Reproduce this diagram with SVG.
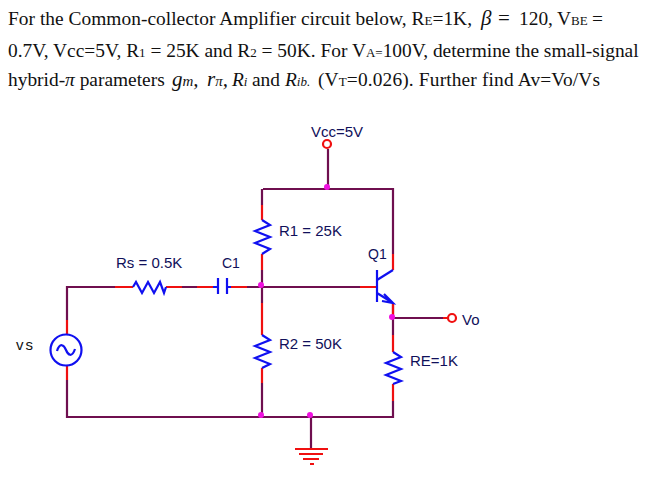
<svg xmlns="http://www.w3.org/2000/svg" width="663" height="477" viewBox="0 0 663 477">
<style>
.t{font-family:"Liberation Serif","Times New Roman",serif;font-size:19.4px;fill:#111}
.s{font-size:13px}
.m{font-size:21px}
.i{font-style:italic}
.l{font-family:"Liberation Sans",Arial,sans-serif;font-size:15px;fill:#10105a}
.n{font-size:14px}
.k{fill:#111}
.w{fill:none;stroke:#6f0f4f;stroke-width:2.2}
.r{fill:none;stroke:#f01010;stroke-width:2.2}
.b{fill:none;stroke:#1010f0;stroke-width:2.2}
.d{fill:#f010e0}
</style>
<rect width="663" height="477" fill="#fff"/>
<g id="problem-text">
<text class="t" x="8" y="25" textLength="464">For the Common-collector Amplifier circuit below, R<tspan class="s">E</tspan>=1K,</text>
<text class="t i m" x="481" y="25">β</text><text class="t m" x="498" y="25">=</text><text class="t" x="519" y="25">120,</text><text class="t" x="557" y="25">V<tspan class="s">BE</tspan></text><text class="t" x="592" y="25">=</text>
<text class="t" x="8" y="57">0.7V, Vcc=5V, R<tspan class="s">1</tspan> = 25K and R<tspan class="s">2</tspan> = 50K. For V<tspan class="s">A=</tspan>100V, determine the small-signal</text>
<text class="t" x="8" y="86">hybrid-<tspan class="i">π</tspan> parameters</text>
<text class="t i m" x="172" y="86">g<tspan font-size="15">m</tspan>,</text><text class="t i m" x="207" y="86">r<tspan font-size="15">π</tspan>,</text><text class="t i" x="232" y="86">R<tspan class="s">i</tspan></text><text class="t" x="252" y="86">and</text><text class="t i" x="285" y="86">R<tspan class="s">ib.</tspan></text>
<text class="t" x="318" y="86" textLength="282">(V<tspan class="s">T</tspan>=0.026). Further find Av=Vo/Vs</text>
</g>
<g id="connectors">
<path class="w" d="M115 287H67V320M67 380V417H393V401M182 287H197M247 287H360M262 189V205M262 270V303M262 383V417M328 149V189M263 189H393V254M393 303V335M393 318H443M311 417V449"/>
<path class="r" d="M115 287H133M166 287H182M197 287H213M231 287H247M67 320V335M67 365V380M262 205V220M262 254V270M262 303V335M262 368V383M360 287H377M393 254V270M393 303V317M393 335V352M393 384V401M443 318H448"/>
</g>
<g id="Vs"><circle class="b" cx="66" cy="350" r="15.5"/><path class="b" d="M57 351C60 342 64 345 66 350S72 358 75 349"/><text class="l k" x="16" y="350" textLength="17">vs</text></g>
<g id="Rs"><path class="b" d="M133 287L136 282L142 293L148 282L154 293L160 282L164 293L166 287"/><text class="l" x="116" y="268">Rs = 0.5K</text></g>
<g id="C1"><path class="b" d="M213 287H218M218 278V294M227 278V294M227 287H231"/><text class="l n" x="222" y="268">C1</text></g>
<g id="R1"><path class="b" d="M262 220L270 225L255 231L270 237L255 243L270 249L262 254"/><text class="l" x="279" y="236">R1 = 25K</text></g>
<g id="R2"><path class="b" d="M262 335L270 340L255 346L270 352L255 358L270 364L262 368"/><text class="l" x="279" y="349">R2 = 50K</text></g>
<g id="RE"><path class="b" d="M393 352L401 357L386 363L401 369L386 375L401 381L393 384"/><text class="l" x="410" y="366">RE=1K</text></g>
<g id="Q1"><path class="b" d="M377 270V302M377 280L393 270M377 293L393 303M384 294L393 303L382 301"/><text class="l n" x="368" y="259">Q1</text></g>
<g id="Vcc"><circle class="r" cx="327" cy="144" r="4"/><text class="l" x="311" y="137">Vcc=5V</text></g>
<g id="Vo"><circle class="r" cx="452" cy="318" r="4"/><text class="l" x="462" y="325">Vo</text></g>
<g id="GND"><path class="r" d="M295 449H328M299 454H323M303 459H319M310 464H314"/></g>
<g id="junctions"><circle class="d" cx="327" cy="187" r="3"/><circle class="d" cx="261" cy="285" r="3"/><circle class="d" cx="392" cy="317" r="3"/><circle class="d" cx="261" cy="415" r="3"/><circle class="d" cx="310" cy="415" r="3"/></g>
</svg>
